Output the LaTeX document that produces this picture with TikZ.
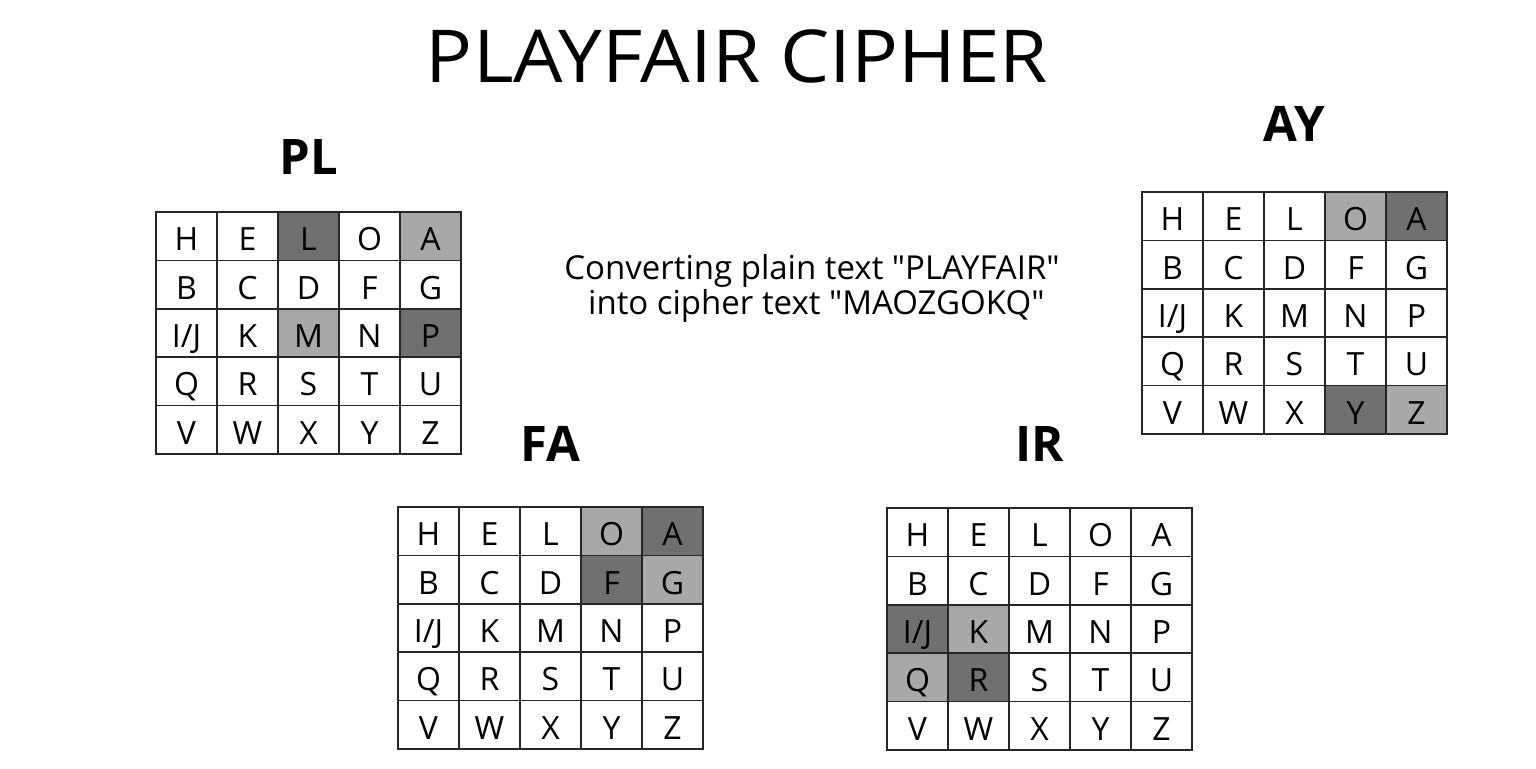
\documentclass[tikz,border=0pt]{standalone}
\usepackage{fontspec}
\setmainfont{Open Sans}
\usetikzlibrary{positioning, backgrounds}

\tikzset{
  cell/.style={draw=black!85, line width=0.8pt, minimum width=30.5pt,
    minimum height=24.2pt, inner sep=0pt, outer sep=0pt,
    font=\fontsize{16}{16}\selectfont, text height=14.5pt, text depth=0pt},
  darkcell/.style={fill=black!56},
  lightcell/.style={fill=black!34},
  pairlabel/.style={font=\fontsize{24.5}{26}\selectfont\bfseries,
    inner sep=0pt, text depth=0pt},
}

% 5x5 key square: name, left, top (pixel units)
\newcommand{\keysquare}[3]{%
  \foreach \row [count=\r from 0] in
      {{H,E,L,O,A},{B,C,D,F,G},{{I/J},K,M,N,P},{Q,R,S,T,U},{V,W,X,Y,Z}}
    \foreach \ltr [count=\c from 0] in \row
      \node[cell] (#1-\r-\c) at ({#2+30.5+61*\c},{#3+24.2+48.4*\r}) {\ltr};
}

\begin{document}
\begin{tikzpicture}[x=0.5pt, y=-0.5pt]
\useasboundingbox (0,0) rectangle (1536,768);

\node[font=\fontsize{36.5}{40}\selectfont, inner sep=0pt,
    xscale=1.07, transform shape] (title) at (737,56)
    {PLAYFAIR CIPHER};

\keysquare{pl}{156}{212}
\keysquare{ay}{1142}{192}
\keysquare{fa}{398}{507}
\keysquare{ir}{887}{508}

\node[pairlabel, above=18.5pt of pl-0-2.north, anchor=south] (plname) {PL};
\node[pairlabel, above=25pt of ay-0-2.north, anchor=south] (ayname) {AY};
\node[pairlabel, above=22.5pt of fa-0-2.north, anchor=south] (faname) {FA};
\node[pairlabel, above=23pt of ir-0-2.north, anchor=south] (irname) {IR};

\node[align=center, font=\fontsize{16.5}{17.5}\selectfont, inner sep=0pt]
    (note) at (812,288)
    {Converting plain text \textquotedbl PLAYFAIR\textquotedbl\\
     \ into cipher text \textquotedbl MAOZGOKQ\textquotedbl};

% highlighted pairs
\begin{scope}[on background layer]
  \fill[darkcell] (pl-0-2.north west) rectangle (pl-0-2.south east);
  \fill[lightcell] (pl-0-4.north west) rectangle (pl-0-4.south east);
  \fill[lightcell] (pl-2-2.north west) rectangle (pl-2-2.south east);
  \fill[darkcell] (pl-2-4.north west) rectangle (pl-2-4.south east);

  \fill[lightcell] (ay-0-3.north west) rectangle (ay-0-3.south east);
  \fill[darkcell] (ay-0-4.north west) rectangle (ay-0-4.south east);
  \fill[darkcell] (ay-4-3.north west) rectangle (ay-4-3.south east);
  \fill[lightcell] (ay-4-4.north west) rectangle (ay-4-4.south east);

  \fill[lightcell] (fa-0-3.north west) rectangle (fa-0-3.south east);
  \fill[darkcell] (fa-0-4.north west) rectangle (fa-0-4.south east);
  \fill[darkcell] (fa-1-3.north west) rectangle (fa-1-3.south east);
  \fill[lightcell] (fa-1-4.north west) rectangle (fa-1-4.south east);

  \fill[darkcell] (ir-2-0.north west) rectangle (ir-2-0.south east);
  \fill[lightcell] (ir-2-1.north west) rectangle (ir-2-1.south east);
  \fill[lightcell] (ir-3-0.north west) rectangle (ir-3-0.south east);
  \fill[darkcell] (ir-3-1.north west) rectangle (ir-3-1.south east);
\end{scope}
\end{tikzpicture}
\end{document}
